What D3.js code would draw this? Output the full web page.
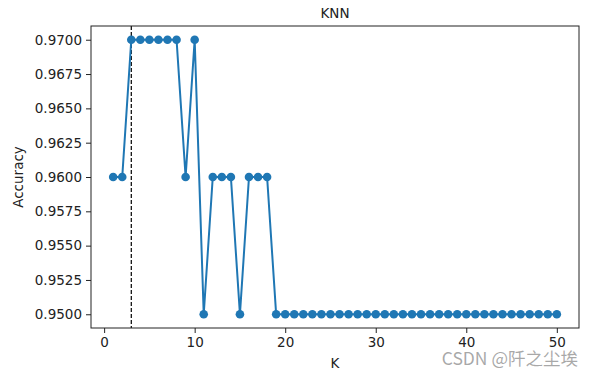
<!DOCTYPE html>
<html>
<head>
<meta charset="utf-8">
<script src="https://cdn.jsdelivr.net/npm/d3@7"></script>
<style>
  body { margin: 0; background: #fff; }
  text { font-family: "DejaVu Sans", sans-serif; fill: #222; }
</style>
</head>
<body>
<svg width="596" height="374"></svg>
<script>
var svg = d3.select("svg");

// K values and accuracy
var kValues = d3.range(1, 51);
var accuracy = [0.96, 0.96, 0.97, 0.97, 0.97, 0.97, 0.97, 0.97, 0.96, 0.97,
  0.95, 0.96, 0.96, 0.96, 0.95, 0.96, 0.96, 0.96, 0.95, 0.95,
  0.95, 0.95, 0.95, 0.95, 0.95, 0.95, 0.95, 0.95, 0.95, 0.95,
  0.95, 0.95, 0.95, 0.95, 0.95, 0.95, 0.95, 0.95, 0.95, 0.95,
  0.95, 0.95, 0.95, 0.95, 0.95, 0.95, 0.95, 0.95, 0.95, 0.95];
var bestK = 3;
var xTicks = [0, 10, 20, 30, 40, 50];
var yTicks = [0.95, 0.9525, 0.955, 0.9575, 0.96, 0.9625, 0.965, 0.9675, 0.97];

var data = kValues.map(function(k, i) { return {k: k, acc: accuracy[i]}; });

// plot area edges
var pLeft = 91, pRight = 579, pTop = 26, pBottom = 328;
var blue = "#1f77b4";

var x = d3.scaleLinear().domain([-1.45, 52.45]).range([pLeft, pRight]);
var y = d3.scaleLinear().domain([0.949, 0.971]).range([pBottom, pTop]);

// x axis
var xAxis = svg.append("g")
  .attr("transform", "translate(0," + pBottom + ")")
  .call(d3.axisBottom(x).tickValues(xTicks).tickSize(5).tickPadding(4).tickFormat(d3.format("d")));
xAxis.select(".domain").remove();
xAxis.selectAll("line").attr("stroke", "#222");
xAxis.selectAll("text").style("font-size", "13.5px").attr("fill", "#222");

// y axis
var yAxis = svg.append("g")
  .attr("transform", "translate(" + pLeft + ",0)")
  .call(d3.axisLeft(y).tickValues(yTicks).tickSize(5).tickPadding(4).tickFormat(d3.format(".4f")));
yAxis.select(".domain").remove();
yAxis.selectAll("line").attr("stroke", "#222");
yAxis.selectAll("text").style("font-size", "13.5px").attr("fill", "#222");

// dashed line at best K
svg.append("line")
  .attr("x1", x(bestK)).attr("x2", x(bestK))
  .attr("y1", pTop).attr("y2", pBottom)
  .attr("stroke", "#000")
  .attr("stroke-width", 1.2)
  .attr("stroke-dasharray", "4,2");

// line + markers
var line = d3.line()
  .x(function(d) { return x(d.k); })
  .y(function(d) { return y(d.acc); });

svg.append("path")
  .datum(data)
  .attr("d", line)
  .attr("fill", "none")
  .attr("stroke", blue)
  .attr("stroke-width", 2);

svg.selectAll(".dot")
  .data(data)
  .enter().append("circle")
    .attr("class", "dot")
    .attr("cx", function(d) { return x(d.k); })
    .attr("cy", function(d) { return y(d.acc); })
    .attr("r", 4.3)
    .attr("fill", blue);

// frame
svg.append("rect")
  .attr("x", pLeft).attr("y", pTop)
  .attr("width", pRight - pLeft).attr("height", pBottom - pTop)
  .attr("fill", "none")
  .attr("stroke", "#222")
  .attr("stroke-width", 1);

// labels
svg.append("text")
  .attr("x", (pLeft + pRight) / 2).attr("y", 18)
  .attr("text-anchor", "middle")
  .style("font-size", "13.5px")
  .text("KNN");

svg.append("text")
  .attr("x", (pLeft + pRight) / 2).attr("y", 368)
  .attr("text-anchor", "middle")
  .style("font-size", "13.5px")
  .text("K");

svg.append("text")
  .attr("transform", "translate(23," + ((pTop + pBottom) / 2) + ") rotate(-90)")
  .attr("text-anchor", "middle")
  .style("font-size", "13.5px")
  .text("Accuracy");

// watermark
svg.append("text")
  .attr("x", 578).attr("y", 365)
  .attr("text-anchor", "end")
  .style("font-family", "'Noto Sans CJK SC', sans-serif")
  .style("font-size", "17.5px")
  .style("fill", "rgba(140,140,140,0.75)")
  .text("CSDN @阡之尘埃");
</script>
</body>
</html>
